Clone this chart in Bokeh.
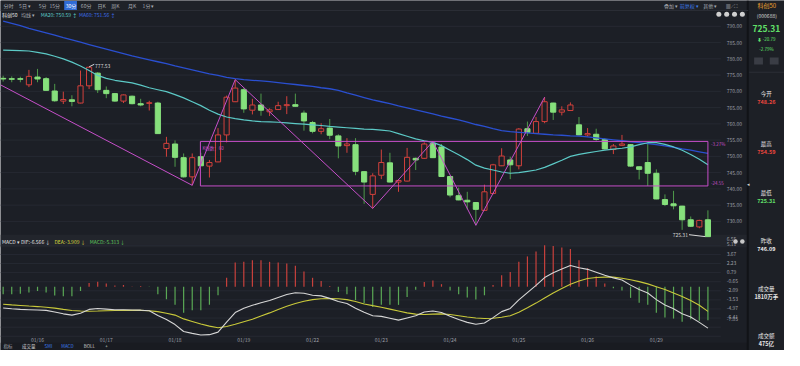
from bokeh.plotting import figure
from bokeh.models import Range1d, ColumnDataSource
from bokeh.core.properties import value
from bokeh.embed import file_html
from bokeh.resources import INLINE

FONT = "Noto Sans CJK SC"
BG = "#1c1f26"

# ---------------- data ----------------
opens = [774.0, 773.9, 773.9, 772.0, 774.4, 773.9, 770.1, 767.0, 767.4, 766.4,
         771.7, 775.6, 770.3, 769.3, 767.0, 768.5, 766.2, 766.3, 766.4, 752.4,
         753.8, 749.6, 743.7, 749.9, 747.0, 748.3, 756.6, 766.8, 770.5, 764.2,
         765.8, 763.7, 764.4, 765.6, 765.9, 763.3, 760.4, 757.7, 758.7, 756.3,
         753.3, 753.6, 745.3, 738.3, 744.2, 748.0, 742.1, 742.4, 749.4, 749.4,
         754.0, 752.9, 743.8, 737.9, 736.5, 735.8, 733.4, 738.6, 747.1, 748.9,
         747.1, 758.5, 757.1, 760.7, 766.4, 763.6, 764.1, 759.7, 756.6, 756.8,
         755.2, 752.1, 753.4, 753.6, 746.8, 748.1, 744.8, 736.7, 735.4, 734.7,
         730.5, 728.3, 730.5]
highs = [774.8, 774.6, 774.5, 776.6, 776.9, 774.4, 772.3, 769.9, 768.8, 776.4,
         777.53, 775.9, 771.5, 769.5, 769.0, 768.7, 767.7, 767.1, 766.8, 756.0,
         754.9, 750.9, 750.9, 751.1, 748.9, 758.7, 768.7, 773.6, 771.0, 767.7,
         769.3, 764.8, 766.8, 768.5, 769.3, 764.1, 760.9, 760.2, 761.5, 756.8,
         755.6, 755.6, 745.4, 744.8, 752.1, 751.1, 742.7, 752.6, 749.6, 754.3,
         754.6, 753.8, 744.0, 740.4, 739.1, 735.9, 741.3, 747.7, 752.5, 749.9,
         758.7, 760.7, 762.1, 768.2, 766.5, 765.4, 766.6, 762.1, 758.7, 758.5,
         755.6, 753.8, 756.6, 753.8, 746.9, 754.3, 746.0, 738.3, 739.4, 734.8,
         731.5, 730.5, 733.4]
lows = [773.0, 772.8, 772.8, 771.3, 772.8, 770.2, 766.8, 766.1, 765.4, 766.3,
        770.7, 769.5, 767.9, 766.8, 766.4, 766.0, 765.4, 764.1, 757.0, 749.9,
        746.8, 743.5, 741.1, 747.0, 743.5, 748.2, 754.3, 766.7, 763.4, 762.9,
        762.5, 762.4, 764.3, 763.0, 765.3, 757.9, 757.1, 756.8, 755.3, 749.4,
        751.1, 744.2, 735.4, 734.0, 743.0, 742.0, 739.1, 742.3, 745.8, 749.2,
        749.5, 743.7, 737.4, 736.5, 733.7, 728.8, 733.3, 738.3, 747.0, 743.0,
        746.0, 756.3, 757.0, 760.2, 761.2, 762.6, 764.0, 756.5, 756.1, 754.8,
        752.1, 750.7, 753.3, 746.8, 742.9, 740.9, 736.8, 734.7, 733.7, 727.4,
        728.3, 727.9, 725.31]
closes = [773.8, 773.7, 773.7, 774.6, 773.8, 770.3, 767.1, 767.5, 766.9, 771.7,
          777.4, 770.5, 769.3, 767.0, 768.9, 766.2, 765.8, 766.5, 757.0, 754.0,
          749.7, 743.7, 749.6, 747.1, 748.1, 756.6, 768.2, 771.0, 764.6, 765.8,
          764.2, 764.3, 765.6, 765.9, 765.4, 760.9, 757.7, 758.5, 756.5, 753.2,
          753.8, 745.4, 742.1, 744.0, 748.1, 742.1, 742.6, 749.7, 748.9, 753.8,
          749.6, 743.8, 738.1, 736.6, 736.0, 733.7, 739.1, 747.4, 750.1, 747.4,
          758.4, 757.3, 760.7, 766.8, 763.6, 764.3, 765.8, 756.6, 757.0, 755.2,
          752.3, 753.2, 753.8, 747.0, 746.0, 744.8, 736.9, 735.2, 734.8, 730.5,
          728.5, 730.3, 725.31]
ma20 = [782.7, 782.6, 782.5, 782.4, 782.0, 781.5, 780.8, 780.0, 779.0, 777.8,
        776.4, 774.9, 774.0, 773.4, 773.0, 772.6, 771.9, 771.1, 770.5, 769.9,
        769.0, 768.0, 766.8, 765.6, 764.2, 763.0, 762.1, 761.6, 761.2, 760.9,
        760.7, 760.6, 760.5, 760.3, 760.1, 759.9, 759.7, 759.5, 759.2, 759.0,
        758.8, 758.6, 758.4, 758.3, 758.1, 757.8, 757.0, 756.2, 755.4, 754.8,
        754.3, 753.3, 751.9, 750.5, 749.0, 747.3, 746.4, 745.8, 745.2, 744.8,
        745.0, 745.4, 745.8, 746.6, 747.7, 748.8, 750.0, 750.6, 751.1, 751.5,
        751.9, 752.2, 752.5, 752.9, 753.6, 754.2, 754.2, 753.7, 752.9, 751.9,
        750.6, 749.1, 747.4]
ma60 = [791.6, 790.9, 790.2, 789.4, 788.7, 788.0, 787.3, 786.5, 785.8, 785.1,
        784.4, 783.7, 783.0, 782.3, 781.6, 780.9, 780.3, 779.7, 779.1, 778.5,
        777.8, 777.2, 776.6, 776.0, 775.4, 774.9, 774.3, 773.9, 773.6, 773.4,
        773.2, 773.0, 772.7, 772.4, 772.1, 771.8, 771.5, 771.1, 770.8, 770.3,
        769.5, 768.8, 768.1, 767.4, 766.8, 766.2, 765.5, 764.9, 764.3, 763.7,
        763.1, 762.4, 761.8, 761.2, 760.5, 759.8, 759.2, 758.5, 757.9, 757.6,
        757.4, 757.2, 757.0, 756.8, 756.6, 756.5, 756.3, 756.2, 756.0, 755.7,
        755.4, 755.1, 754.8, 754.5, 754.2, 753.9, 753.6, 753.2, 752.8, 752.3,
        751.9, 751.4, 750.9]
dif = [-3.38, -3.5, -3.6, -3.65, -3.7, -3.75, -4.0, -4.3, -4.5, -4.2,
       -3.6, -3.45, -3.55, -3.65, -3.65, -3.7, -3.72, -3.82, -4.55, -5.2,
       -6.0, -7.1, -7.4, -7.65, -7.6, -7.2, -5.6, -4.1, -3.4, -2.95,
       -2.55, -2.2, -1.7, -1.25, -0.95, -1.05, -1.35, -1.45, -1.85, -2.35,
       -2.65, -3.4, -4.05, -4.6, -4.7, -5.0, -5.3, -4.95, -4.6, -4.0,
       -3.85, -4.1, -4.7, -5.2, -5.65, -5.95, -5.75, -4.9, -3.95, -3.45,
       -2.1, -0.95, 0.2, 1.45, 2.2, 2.8, 3.35, 3.0, 2.75, 2.3,
       1.8, 1.4, 1.05, 0.25, -0.45, -1.0, -2.05, -2.9, -3.5, -4.3,
       -4.8, -5.65, -6.566]
dea = [-2.78, -2.88, -2.97, -3.07, -3.15, -3.25, -3.4, -3.6, -3.76, -3.85,
       -3.89, -3.85, -3.8, -3.77, -3.75, -3.74, -3.75, -3.8, -3.95, -4.2,
       -4.5, -5.1, -5.5, -5.9, -6.25, -6.5, -6.3, -5.95, -5.55, -5.15,
       -4.65, -4.15, -3.6, -3.1, -2.65, -2.3, -2.05, -1.9, -1.88, -1.92,
       -2.05, -2.35, -2.73, -3.0, -3.25, -3.55, -3.85, -4.15, -4.35, -4.4,
       -4.35, -4.3, -4.4, -4.6, -4.8, -4.95, -5.05, -5.0, -4.85, -4.6,
       -4.05, -3.35, -2.6, -1.8, -1.0, -0.3, 0.4, 0.9, 1.3, 1.45,
       1.52, 1.52, 1.35, 1.1, 0.8, 0.45, 0.0, -0.45, -1.0, -1.55,
       -2.2, -2.95, -3.909]
macd_hist = [-1.21, -1.21, -1.1, -0.9, -0.7, -0.9, -1.41, -1.5, -1.5, -0.7,
             0.6, 0.8, 0.5, 0.2, 0.25, 0.05, 0.1, -0.05, -1.21, -2.0,
             -2.88, -4.14, -3.74, -3.74, -2.88, -1.36, 1.41, 3.84, 3.94, 4.19,
             4.19, 3.94, 3.84, 3.69, 3.33, 2.42, 1.41, 0.91, 0.1, -0.86,
             -1.21, -2.12, -2.63, -3.23, -2.88, -2.88, -2.88, -1.62, -0.5, 0.76,
             1.0, 0.4, -0.6, -1.21, -1.72, -2.02, -1.36, 0.25, 1.82, 2.32,
             3.94, 4.8, 5.56, 6.55, 6.46, 6.21, 5.96, 4.19, 2.93, 1.67,
             0.5, -0.25, -0.6, -1.77, -2.53, -2.88, -4.14, -4.9, -5.05, -5.56,
             -5.15, -5.4, -5.313]

price_ticks = [790, 785, 780, 775, 770, 765, 760, 755, 750, 745, 740, 735, 730]
macd_ticks = [6.55, 5.11, 3.67, 2.23, 0.79, -0.65, -2.09, -3.53, -4.97, -6.41, -7.85]
date_labels = ["01/16", "01/17", "01/18", "01/19", "01/22", "01/23", "01/24", "01/25", "01/26", "01/29"]
date_idx = [4, 12, 20, 28, 36, 44, 52, 60, 68, 76]

zig_idx = [-0.31, 22.0, 27.0, 43.0, 50.0, 55.0, 63.0]
zig_price = [772.0, 741.1, 773.6, 734.0, 754.6, 728.8, 768.2]
box_left, box_right, box_top, box_bottom = 22.95, 82.0, 754.6, 740.9

n = len(opens)
idx = list(range(n))

# ---------------- figure ----------------
p = figure(width=784, height=350, output_backend="svg", toolbar_location=None,
           x_range=Range1d(-0.308, 90.91), y_range=Range1d(690.29, 797.94),
           x_axis_location=None, y_axis_location=None, min_border=0,
           background_fill_color=BG, border_fill_color=BG)
p.grid.visible = False
p.outline_line_color = None
p.extra_y_ranges = {"macd": Range1d(-10.11, 45.35), "px": Range1d(366, 0)}
p.extra_x_ranges = {"px": Range1d(0, 800)}


def ptext(x, y, t, color, size, align="left", style="normal", baseline="middle"):
    p.text(x=[x], y=[y], text=[t], x_range_name="px", y_range_name="px",
           text_color=color, text_font_size=f"{size}px", text_align=align,
           text_baseline=baseline, text_font=value(FONT), text_font_style=style)


def pquad(l, r, t, b, color, line=None):
    p.quad(left=[l], right=[r], top=[t], bottom=[b], x_range_name="px", y_range_name="px",
           fill_color=color, line_color=line)


# chrome backgrounds
pquad(0, 763, 10.5, 0, "#1f2228")
pquad(0, 763, 258, 245, "#22252c")
pquad(0, 763, 366, 358, "#191b21")
pquad(763, 800, 366, 0, "#1d2026")
p.segment(x0=[762.5], x1=[762.5], y0=[0], y1=[366], x_range_name="px", y_range_name="px",
          line_color="#111317", line_width=2)
p.segment(x0=[0], x1=[763], y0=[10.5], y1=[10.5], x_range_name="px", y_range_name="px",
          line_color="#2b2e36", line_width=1)
p.segment(x0=[764], x1=[800], y0=[75], y1=[75], x_range_name="px", y_range_name="px",
          line_color="#2b2e36", line_width=1)

# price grid + labels
p.segment(x0=0, x1=735, y0=price_ticks, y1=price_ticks, x_range_name="px",
          line_color="#262932", line_width=1)
p.text(x=741, y=price_ticks, text=[f"{t:.2f}" for t in price_ticks], x_range_name="px",
       text_color="#9c9fa6", text_font_size="5px", text_baseline="middle", text_font=value(FONT))

# macd grid + labels
p.segment(x0=0, x1=735, y0=macd_ticks, y1=macd_ticks, x_range_name="px", y_range_name="macd",
          line_color="#262932", line_width=1)
offs = [-6, -10, -10, -10, -10, -10, -10, -10, -10, -10, -17]
msrc = ColumnDataSource(dict(y=macd_ticks, t=[f"{t:.2f}" for t in macd_ticks], off=offs))
p.text(x=741, y="y", text="t", y_offset="off", source=msrc, x_range_name="px", y_range_name="macd",
       text_color="#9c9fa6", text_font_size="5px", text_baseline="middle", text_font=value(FONT))

# ---------------- candles ----------------
RED = "#d2413c"
GREEN = "#86e07c"
GWICK = "#4f9a4b"
up = [c >= o for o, c in zip(opens, closes)]
src = ColumnDataSource(dict(
    x=idx, top=[max(o, c) for o, c in zip(opens, closes)],
    bottom=[min(o, c) for o, c in zip(opens, closes)],
    high=highs, low=lows,
    fill=[BG if u else GREEN for u in up],
    line=[RED if u else GREEN for u in up],
    wick=[RED if u else GWICK for u in up]))
p.segment(x0="x", x1="x", y0="low", y1="high", line_color="wick", source=src, line_width=1)
p.vbar(x="x", width=0.6, top="top", bottom="bottom", fill_color="fill", line_color="line",
       source=src, line_width=1)

# MA lines
p.line(idx, ma60, line_color="#2a4fd0", line_width=1.3)
p.line(idx, ma20, line_color="#5cc9c6", line_width=1.2)

# drawings
MAG = "#c64fc9"
p.line(zig_idx, zig_price, line_color=MAG, line_width=1)
p.quad(left=[box_left], right=[box_right], top=[box_top], bottom=[box_bottom],
       fill_alpha=0, line_color=MAG, line_width=1)
p.text(x=[box_left], y=[box_top], text=["K线数：60"], x_offset=2, y_offset=4,
       text_color=MAG, text_font_size="4.5px", text_baseline="top", text_font=value(FONT))
p.text(x=[box_right, box_right], y=[box_top, box_bottom], text=["-3.27%", "-24.55"],
       x_offset=3, y_offset=[3, -3], text_color=MAG, text_font_size="4.5px",
       text_baseline="middle", text_font=value(FONT))

# high/low markers
p.text(x=[10], y=[highs[10]], text=["777.53"], x_offset=6, y_offset=-1, text_color="#d8d8d8",
       text_font_size="5px", text_baseline="middle", text_font=value(FONT))
p.segment(x0=[10], y0=[highs[10]], x1=[10.6], y1=[highs[10] + 0.8], line_color="#d8d8d8")
p.text(x=[82], y=[closes[82]], text=["725.31"], x_offset=-20, y_offset=-2, text_color="#d8d8d8",
       text_font_size="5px", text_baseline="middle", text_align="right", text_font=value(FONT))
p.segment(x0=[79.8], y0=[closes[82] + 0.6], x1=[81.7], y1=[closes[82]], line_color="#d8d8d8")

# ---------------- MACD ----------------
hist_col = ["#c8413c" if v >= 0 else "#5aa855" for v in macd_hist]
p.segment(x0=idx, x1=idx, y0=0, y1=macd_hist, line_color=hist_col, line_width=1.2,
          y_range_name="macd")
p.line(idx, dea, line_color="#c9c93a", line_width=1.1, y_range_name="macd")
p.line(idx, dif, line_color="#d6d6d6", line_width=1.1, y_range_name="macd")

# date labels
p.text(x=date_idx, y=354, text=date_labels, y_range_name="px", text_color="#9c9fa6",
       text_font_size="5px", text_align="center", text_baseline="middle", text_font=value(FONT))

# ---------------- chrome texts ----------------
G = "#a9acb3"
for x, t in [(3, "分时"), (19, "5日 ▾"), (39, "5分"), (50, "15分"), (82, "60分"),
             (99, "日K"), (113, "周K"), (130, "月K"), (145, "1分  ▾")]:
    ptext(x, 5, t, G, 5)
pquad(65, 78, 10, 0.5, "#2f6bd6")
ptext(66.5, 5, "30分", "#ffffff", 5)
ptext(677, 5, "叠加 ▾", G, 5)
ptext(693, 5, "前复权 ▾", "#3d7ff0", 5)
ptext(717, 5, "其他 ▾", G, 5)
ptext(740, 5, "▦  ⁄  ⛶", G, 5)
ptext(782, 5.5, "科创50", "#f0a030", 6, align="center")
ptext(782, 16, "(000688)", "#d8d8d8", 5, align="center")

ptext(1.5, 14.5, "科创50", "#e8e8e8", 5)
ptext(21, 14.5, "均线 ▾", G, 5)
ptext(41, 14.5, "MA20: 750.59 ↕", "#5cc9c6", 5)
ptext(80, 14.5, "MA60: 751.56 ↕", "#3d6ee8", 5)
for cx in [733, 741, 749, 757]:
    p.scatter(x=[cx], y=[14.5], size=5, marker="circle", fill_color="#d0d0d0",
              line_color=None, x_range_name="px", y_range_name="px")

ptext(1.5, 251.5, "MACD ▾ DIF:-6.566 ↓", "#e0e0e0", 5)
ptext(55, 251.5, "DEA:-3.909 ↓", "#d6d63c", 5)
ptext(91, 251.5, "MACD:-5.313 ↓", "#5fc45a", 5)
for cx in [750, 757]:
    p.scatter(x=[cx], y=[252], size=4.5, marker="circle", fill_color="#c8c8c8",
              line_color=None, x_range_name="px", y_range_name="px")

# right panel
RR = "#e8453d"
GG = "#62e06a"
ptext(781.5, 29, "725.31", GG, 8.5, align="center", style="bold")
ptext(781.5, 40.5, "⬇ -20.79", GG, 4.5, align="center")
ptext(781.5, 51, "-2.79%", GG, 4.5, align="center")
pquad(769, 778, 67, 59.5, "#3a3d45")
pquad(785, 794, 67, 59.5, "#3a3d45")
for lab, val, col, y in [("今开", "748.26", RR, 98), ("最高", "754.59", RR, 150),
                         ("最低", "725.31", GG, 201), ("昨收", "746.09", "#e8e8e8", 251),
                         ("成交量", "1810万手", "#e8e8e8", 302), ("成交额", "475亿", "#e8e8e8", 351)]:
    ptext(781.5, y, lab, "#e8e8e8", 5.5, align="center")
    ptext(781.5, y + 8, val, col, 5.5, align="center", style="bold")
ptext(763.5, 191, "◂", "#d0d0d0", 5, align="center")

# bottom tabs
for x, t, c in [(3, "指标", G), (22, "成交量", "#d0d0d0"), (45, "SMI", "#3d7ff0"),
                (62, "MACD", "#3d7ff0"), (85, "BOLL", "#d0d0d0"), (107, "+", "#d0d0d0")]:
    ptext(x, 361.5, t, c, 4.5)

open("out.html", "w").write(file_html(p, INLINE))
